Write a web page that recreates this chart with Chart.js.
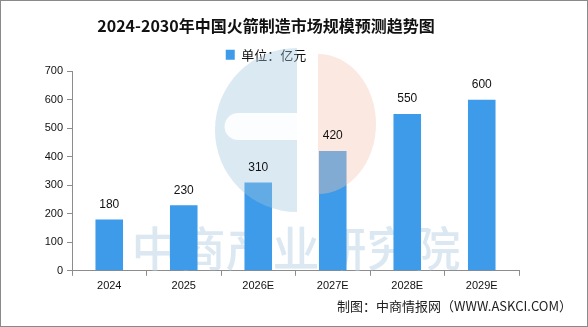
<!DOCTYPE html>
<html>
<head>
<meta charset="utf-8">
<script src="https://cdn.jsdelivr.net/npm/chart.js@4.4.1/dist/chart.umd.min.js"></script>
<style>
  html, body { margin: 0; padding: 0; background: #fff; }
  #wrap { width: 588px; height: 327px; position: relative; }
</style>
</head>
<body>
<div id="wrap"><canvas id="chart" width="588" height="327"></canvas></div>
<script>
const years = ['2024', '2025', '2026E', '2027E', '2028E', '2029E'];
const marketSize = [180, 230, 310, 420, 550, 600];
const yTicks = [0, 100, 200, 300, 400, 500, 600, 700];

const titleText = '2024-2030年中国火箭制造市场规模预测趋势图';
const seriesName = '单位：亿元';
const footerText = '制图：中商情报网（WWW.ASKCI.COM）';

const barColor = 'rgb(61,155,233)';
const axisColor = '#8c8c8c';

// watermark text behind, logo over the bars, labels, footer, border
const decor = {
    id: 'decor',
    beforeDatasetsDraw(chart) {
        const c = chart.ctx;
        c.save();
        c.fillStyle = 'rgba(190,213,232,0.55)';
        c.font = '500 47px "Noto Sans CJK SC"';
        c.textAlign = 'center';
        c.textBaseline = 'middle';
        c.fillText('中商产业研究院', 296, 248);
        c.restore();
    },
    afterDatasetsDraw(chart) {
        const c = chart.ctx;
        c.save();
        // logo
        c.globalAlpha = 0.38;
        c.fillStyle = 'rgb(160,196,224)';
        c.beginPath();
        c.arc(297, 130, 82, Math.PI / 2, Math.PI * 1.5);
        c.closePath();
        c.fill();
        c.globalAlpha = 1;
        c.fillStyle = 'rgba(255,255,255,0.9)';
        c.beginPath();
        c.moveTo(297, 113);
        c.lineTo(238, 113);
        c.arc(238, 126.5, 13.5, Math.PI * 1.5, Math.PI / 2, true);
        c.lineTo(297, 140);
        c.closePath();
        c.fill();
        c.globalAlpha = 0.38;
        c.fillStyle = 'rgb(244,196,176)';
        c.beginPath();
        c.ellipse(318, 124, 58, 70, 0, -Math.PI / 2, Math.PI / 2);
        c.closePath();
        c.fill();
        c.restore();

        // value labels
        c.save();
        c.fillStyle = '#111';
        c.font = '12px "Liberation Sans"';
        c.textAlign = 'center';
        c.textBaseline = 'bottom';
        const meta = chart.getDatasetMeta(0);
        meta.data.forEach((bar, i) => {
            c.fillText(String(marketSize[i]), bar.x, bar.y - 9);
        });
        c.restore();
    },
    afterDraw(chart) {
        const c = chart.ctx;
        c.save();
        c.fillStyle = '#222';
        c.font = '13px "Noto Sans CJK SC"';
        c.textAlign = 'right';
        c.textBaseline = 'middle';
        c.fillText(footerText, 572, 306);
        c.strokeStyle = '#8a8a8a';
        c.lineWidth = 1;
        c.strokeRect(0.5, 0.5, chart.width - 1, chart.height - 1);
        c.restore();
    }
};

new Chart(document.getElementById('chart'), {
    type: 'bar',
    data: {
        labels: years,
        datasets: [{
            label: seriesName,
            data: marketSize,
            backgroundColor: barColor,
            barPercentage: 0.37,
            categoryPercentage: 1
        }]
    },
    options: {
        responsive: false,
        animation: false,
        layout: { padding: { left: 13, right: 69, top: 10, bottom: 30 } },
        plugins: {
            title: {
                display: true,
                text: titleText,
                color: '#111',
                font: { family: '"Noto Sans CJK SC"', size: 16, weight: 'bold' },
                padding: { top: 6, bottom: 2 }
            },
            legend: {
                display: true,
                labels: {
                    boxWidth: 9,
                    boxHeight: 10,
                    padding: 11,
                    color: '#111',
                    font: { family: '"Noto Sans CJK SC"', size: 13 }
                }
            },
            tooltip: { enabled: false }
        },
        scales: {
            x: {
                grid: { drawOnChartArea: false, drawTicks: true, tickLength: 5, color: axisColor, offset: true },
                border: { color: axisColor },
                ticks: { color: '#111', font: { family: '"Liberation Sans"', size: 11 }, padding: 4 }
            },
            y: {
                min: 0,
                max: 700,
                afterBuildTicks(axis) { axis.ticks = yTicks.map(v => ({ value: v })); },
                afterFit(axis) { axis.width = 59; },
                grid: { drawOnChartArea: false, drawTicks: true, tickLength: 5, color: axisColor },
                border: { color: axisColor },
                ticks: { color: '#111', font: { family: '"Liberation Sans"', size: 11 }, padding: 4 }
            }
        }
    },
    plugins: [decor]
});
</script>
</body>
</html>
